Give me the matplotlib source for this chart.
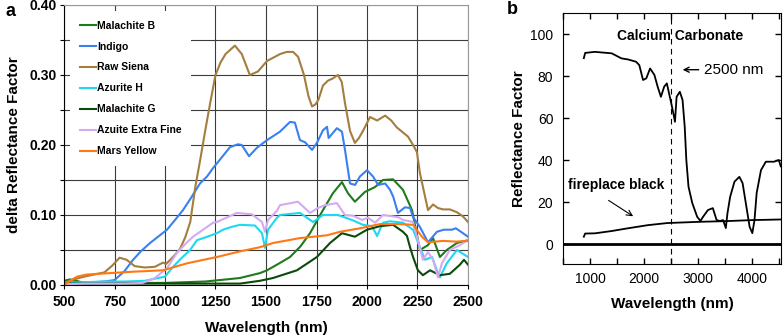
import numpy as np
import matplotlib
matplotlib.use("Agg")
from matplotlib import pyplot as plt

plt.rcParams['font.family'] = ['Liberation Sans', 'DejaVu Sans']

# ---------------- panel a : delta reflectance of pigments ----------------
names_a = ["Malachite B", "Indigo", "Raw Siena", "Azurite H", "Malachite G",
           "Azuite Extra Fine", "Mars Yellow"]
colors_a = ["#1e7b1e", "#3a80f0", "#a37e3f", "#1ed8f0", "#0b4a0b", "#d4aaf2", "#ff7812"]

wl_malb = [500, 530, 560, 600, 800, 1000, 1200, 1338, 1371, 1470, 1505, 1560, 1619, 1670, 1718,
           1782, 1831, 1876, 1906, 1940, 1990, 2040, 2079, 2129, 2178, 2223, 2262, 2302, 2327,
           2361, 2395, 2445, 2500]
v_malb = [0.006, 0.008, 0.006, 0.003, 0.003, 0.003, 0.005, 0.009, 0.010, 0.017, 0.021, 0.030,
          0.040, 0.055, 0.074, 0.107, 0.131, 0.147, 0.131, 0.119, 0.133, 0.140, 0.150, 0.151,
          0.136, 0.107, 0.050, 0.057, 0.067, 0.040, 0.050, 0.060, 0.064]

wl_ind = [500, 550, 600, 650, 700, 750, 800, 842, 880, 926, 970, 1010, 1050, 1089, 1130, 1173,
          1208, 1238, 1280, 1322, 1361, 1380, 1416, 1455, 1505, 1569, 1619, 1643, 1668, 1693,
          1728, 1752, 1782, 1802, 1810, 1851, 1876, 1891, 1916, 1941, 1965, 2000, 2030, 2055,
          2090, 2114, 2130, 2153, 2188, 2213, 2228, 2262, 2302, 2346, 2380, 2420, 2440, 2470, 2500]
v_ind = [0.003, 0.004, 0.004, 0.004, 0.005, 0.007, 0.020, 0.036, 0.048, 0.060, 0.070, 0.079,
         0.093, 0.107, 0.125, 0.145, 0.155, 0.167, 0.182, 0.197, 0.201, 0.200, 0.184, 0.196,
         0.207, 0.219, 0.233, 0.232, 0.207, 0.204, 0.193, 0.203, 0.221, 0.226, 0.210, 0.224,
         0.219, 0.193, 0.145, 0.143, 0.155, 0.164, 0.155, 0.143, 0.145, 0.136, 0.126, 0.103,
         0.111, 0.110, 0.097, 0.083, 0.061, 0.076, 0.079, 0.079, 0.081, 0.075, 0.069]

wl_sien = [500, 550, 600, 650, 700, 740, 775, 810, 850, 900, 950, 990, 1005, 1040, 1075, 1100,
           1125, 1150, 1175, 1200, 1225, 1250, 1275, 1300, 1346, 1380, 1420, 1460, 1505, 1570,
           1603, 1634, 1659, 1688, 1710, 1728, 1745, 1760, 1782, 1807, 1830, 1856, 1875, 1891,
           1916, 1940, 1960, 1980, 2015, 2050, 2090, 2120, 2148, 2203, 2228, 2247, 2262, 2277,
           2302, 2327, 2351, 2376, 2410, 2445, 2475, 2500]
v_sien = [0.003, 0.008, 0.012, 0.015, 0.018, 0.028, 0.039, 0.036, 0.027, 0.025, 0.026, 0.032,
          0.030, 0.040, 0.052, 0.068, 0.090, 0.140, 0.180, 0.222, 0.262, 0.300, 0.318, 0.330,
          0.342, 0.330, 0.300, 0.305, 0.320, 0.330, 0.333, 0.333, 0.326, 0.300, 0.270, 0.255,
          0.258, 0.265, 0.285, 0.292, 0.295, 0.300, 0.290, 0.260, 0.220, 0.203, 0.210, 0.220,
          0.240, 0.235, 0.242, 0.235, 0.225, 0.212, 0.200, 0.190, 0.160, 0.140, 0.107, 0.115,
          0.110, 0.108, 0.108, 0.104, 0.098, 0.090]

wl_azh = [500, 600, 700, 800, 900, 1000, 1040, 1080, 1124, 1158, 1200, 1257, 1287, 1330, 1371,
          1445, 1480, 1495, 1510, 1554, 1569, 1668, 1733, 1782, 1856, 1925, 1980, 2025, 2050,
          2079, 2114, 2178, 2228, 2262, 2287, 2322, 2346, 2361, 2395, 2445, 2500]
v_azh = [0.002, 0.004, 0.005, 0.005, 0.006, 0.012, 0.026, 0.038, 0.050, 0.064, 0.068, 0.074,
         0.079, 0.083, 0.086, 0.085, 0.074, 0.053, 0.079, 0.096, 0.100, 0.103, 0.090, 0.100,
         0.100, 0.093, 0.086, 0.084, 0.070, 0.089, 0.091, 0.089, 0.079, 0.054, 0.036, 0.040,
         0.021, 0.011, 0.031, 0.050, 0.040]

wl_malg = [500, 700, 900, 1100, 1338, 1371, 1470, 1535, 1653, 1752, 1817, 1876, 1940, 2000,
           2064, 2129, 2178, 2198, 2213, 2228, 2252, 2277, 2312, 2361, 2410, 2460, 2480, 2500]
v_malg = [0.002, 0.002, 0.002, 0.002, 0.002, 0.002, 0.006, 0.010, 0.021, 0.040, 0.060, 0.074,
          0.069, 0.079, 0.084, 0.086, 0.076, 0.070, 0.054, 0.040, 0.021, 0.014, 0.021, 0.014,
          0.016, 0.029, 0.036, 0.029]

wl_azef = [500, 600, 700, 800, 890, 950, 1010, 1059, 1109, 1139, 1238, 1257, 1356, 1430, 1480,
           1495, 1510, 1554, 1569, 1658, 1718, 1757, 1792, 1851, 1891, 1930, 1975, 2005, 2040,
           2079, 2153, 2178, 2228, 2247, 2277, 2302, 2327, 2351, 2371, 2410, 2460, 2500]
v_azef = [0.001, 0.002, 0.002, 0.002, 0.003, 0.010, 0.024, 0.046, 0.061, 0.069, 0.089, 0.090,
          0.103, 0.101, 0.090, 0.076, 0.093, 0.106, 0.114, 0.119, 0.103, 0.110, 0.114, 0.117,
          0.100, 0.099, 0.093, 0.096, 0.089, 0.100, 0.097, 0.093, 0.090, 0.069, 0.036, 0.047,
          0.036, 0.011, 0.031, 0.050, 0.057, 0.064]

wl_mars = [505, 530, 565, 614, 728, 842, 990, 1109, 1257, 1371, 1470, 1535, 1668, 1802, 1866,
           1965, 2064, 2163, 2228, 2272, 2302, 2376, 2440, 2500]
v_mars = [0.001, 0.006, 0.012, 0.015, 0.017, 0.019, 0.021, 0.031, 0.040, 0.048, 0.054, 0.060,
          0.067, 0.071, 0.076, 0.081, 0.087, 0.087, 0.086, 0.069, 0.061, 0.063, 0.062, 0.063]

series_a = [(wl_malb, v_malb), (wl_ind, v_ind), (wl_sien, v_sien), (wl_azh, v_azh),
            (wl_malg, v_malg), (wl_azef, v_azef), (wl_mars, v_mars)]

# ---------------- panel b : calcium carbonate / fireplace black ----------------
wl_caco3 = [885, 910, 1090, 1400, 1580, 1700, 1850, 1910, 1980, 2040, 2110, 2190, 2250, 2310,
            2370, 2420, 2460, 2520, 2570, 2600, 2660, 2710, 2750, 2780, 2820, 2890, 2980, 3040,
            3090, 3180, 3270, 3340, 3400, 3460, 3510, 3540, 3590, 3670, 3760, 3820, 3890, 3950,
            4000, 4040, 4080, 4160, 4250, 4400, 4490, 4525]
v_caco3 = [88.5, 91.0, 91.5, 90.8, 88.4, 87.9, 86.8, 85.2, 78.1, 78.9, 83.6, 80.5, 74.9, 70.1,
           74.9, 76.5, 71.8, 64.8, 58.2, 70.1, 72.5, 68.6, 55.9, 40.0, 27.3, 19.5, 13.0, 11.0,
           13.0, 16.2, 17.1, 11.4, 11.0, 11.4, 7.6, 14.6, 22.5, 29.7, 32.0, 29.0, 17.8, 8.2,
           5.2, 11.4, 24.3, 35.2, 39.2, 39.2, 40.0, 37.0]

wl_black = [885, 910, 1090, 1400, 1700, 2070, 2430, 3040, 3500, 4000, 4525]
v_black = [3.5, 5.0, 5.1, 6.2, 7.5, 9.0, 10.0, 10.6, 10.9, 11.4, 11.7]

fig = plt.figure(figsize=(7.84, 3.35), dpi=100)

#==================== panel a ====================
ax = fig.add_axes([64/784, 50/335, 404/784, 280/335])
for (x, y), nm, c in zip(series_a, names_a, colors_a):
    ax.plot(x, y, color=c, lw=1.5, label=nm)

ax.set_xlim(500, 2500)
ax.set_ylim(0, 0.40)
ax.set_xticks(np.arange(500, 2501, 250))
ax.set_yticks(np.arange(0, 0.401, 0.10))
ax.set_yticks(np.arange(0.05, 0.40, 0.10), minor=True)
ax.yaxis.set_major_formatter(matplotlib.ticker.FormatStrFormatter('%.2f'))
ax.grid(True, which='both', color='#3c3c3c', lw=0.8)
ax.set_axisbelow(True)
ax.tick_params(which='both', direction='out', length=3, width=0.8, labelsize=10, pad=2)
ax.tick_params(axis='x', pad=4)
for lb in ax.get_xticklabels() + ax.get_yticklabels():
    lb.set_fontweight('bold')
for s in ['top', 'right']:
    ax.spines[s].set_color('#9a9a9a')
ax.set_xlabel('Wavelength (nm)', fontsize=11, fontweight='bold', labelpad=9)
ax.set_ylabel('delta Reflectance Factor', fontsize=11, fontweight='bold', labelpad=6)

leg = ax.legend(loc='upper left', bbox_to_anchor=(0.0, 1.0), fontsize=7.5, frameon=True,
                fancybox=False, edgecolor='none', facecolor='white', framealpha=1,
                labelspacing=1.05, handlelength=1.6, handletextpad=0.1, borderpad=0.9,
                borderaxespad=0.6)
for t in leg.get_texts():
    t.set_fontweight('bold')
leg.set_zorder(5)

fig.text(5/784, 1 - 12/335, 'a', fontsize=13, fontweight='bold', va='center')

#==================== panel b ====================
bx = fig.add_axes([563/784, 71/335, 218/784, 251/335])
bx.plot(wl_caco3, v_caco3, color='black', lw=1.3)
bx.plot(wl_black, v_black, color='black', lw=1.3)
bx.axhline(0, color='black', lw=2)
bx.axvline(2500, color='black', lw=0.8, ls=(0, (5, 4)))

bx.set_xlim(545, 4530)
bx.set_ylim(-9.5, 110)
bx.set_xticks([1000, 2000, 3000, 4000])
bx.set_xticks(np.arange(500, 4501, 500), minor=True)
bx.set_yticks(np.arange(0, 101, 20))
bx.tick_params(which='both', direction='in', length=4, width=1, top=True, right=True,
               labelsize=10)
bx.tick_params(axis='x', pad=6)
bx.tick_params(axis='y', pad=7)
bx.set_xlabel('Wavelength (nm)', fontsize=11, fontweight='bold', labelpad=8)
bx.set_ylabel('Reflectance Factor', fontsize=11, fontweight='bold', labelpad=3)

bx.text(2670, 99, 'Calcium Carbonate', fontsize=10, fontweight='bold', ha='center', va='center')
bx.annotate('', xy=(2660, 83), xytext=(3060, 83),
            arrowprops=dict(arrowstyle='->', color='black', lw=1.0, mutation_scale=9))
bx.text(3110, 83, '2500 nm', fontsize=11, ha='left', va='center')
bx.text(600, 28, 'fireplace black', fontsize=10, fontweight='bold', ha='left', va='center')
bx.annotate('', xy=(1840, 12.5), xytext=(1300, 21.5),
            arrowprops=dict(arrowstyle='->', color='black', lw=0.8))

fig.text(507/784, 1 - 10/335, 'b', fontsize=13, fontweight='bold', va='center')

fig.savefig('out.png', dpi=100)
